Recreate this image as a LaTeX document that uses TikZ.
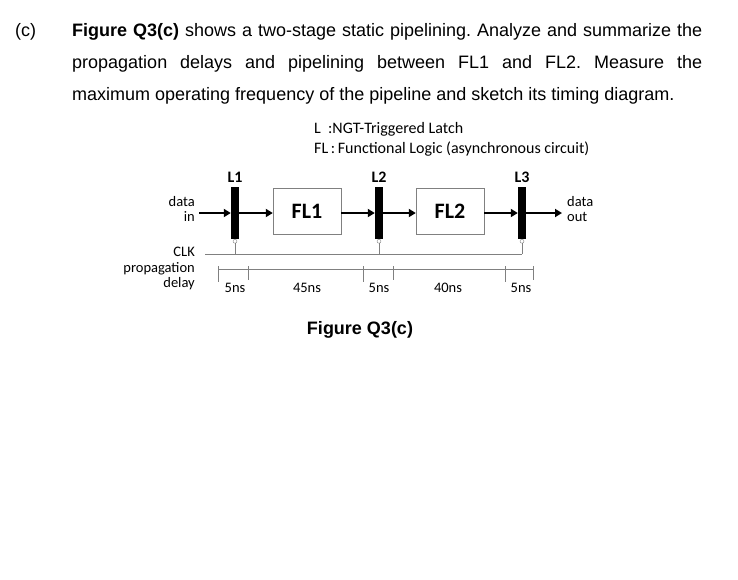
\documentclass[tikz,border=0pt]{standalone}
\usepackage{fontspec}
\setmainfont{Liberation Sans}
\newfontfamily\carl{Carlito}
\usetikzlibrary{arrows.meta}
\begin{document}
\begin{tikzpicture}[x=1pt,y=-1pt,
  latch/.style={fill=black,minimum width=8pt,minimum height=52pt,inner sep=0},
  flbox/.style={draw=gray,minimum width=68pt,minimum height=46pt,font=\carl\bfseries\fontsize{22}{22}\selectfont},
  dat/.style={line width=1.8pt,-{Triangle[length=7pt,width=8pt]}},
  lbl/.style={font=\carl\bfseries\fontsize{16}{16}\selectfont},
  sm/.style={font=\carl\fontsize{14.5}{14.5}\selectfont,align=right,inner sep=0},
  dl/.style={font=\carl\fontsize{14.5}{14}\selectfont,inner sep=0},
  tx/.style={font=\fontsize{18}{18}\selectfont,anchor=base west,inner sep=0}]
\useasboundingbox (0,0) rectangle (738,579);
\node[tx] (c) at (15,36) {(c)};
\node[tx] (t1) at (72,36) {\hbox to 630pt{\spaceskip=0.25em plus 1fil \xspaceskip=\spaceskip \textbf{Figure Q3(c)} shows a two-stage static pipelining. Analyze and summarize the}};
\node[tx] (t2) at (72,68) {\hbox to 630pt{\spaceskip=0.25em plus 1fil \xspaceskip=\spaceskip propagation delays and pipelining between FL1 and FL2. Measure the}};
\node[tx] (t3) at (72,100) {maximum operating frequency of the pipeline and sketch its timing diagram.};
\node[font=\carl\fontsize{16}{16}\selectfont,anchor=west,inner sep=0] (lg1) at (314,129) {L\ \ :NGT-Triggered Latch};
\node[font=\carl\fontsize{16}{16}\selectfont,anchor=west,inner sep=0] (lg2) at (314,149) {FL\,:\,Functional Logic (asynchronous circuit)};
\node[latch] (L1) at (235,213) {};
\node[latch] (L2) at (379,213) {};
\node[latch] (L3) at (522,213) {};
\node[lbl] (n1) at (235,177) {L1};
\node[lbl] (n2) at (379,177) {L2};
\node[lbl] (n3) at (522,177) {L3};
\node[flbox] (F1) at (307,211) {FL1};
\node[flbox] (F2) at (450,211) {FL2};
\node[sm,anchor=east] (din) at (195,209) {data\\in};
\node[sm,align=left,anchor=west] (dout) at (567,209) {data\\out};
\coordinate (a0) at (199,213);
\coordinate (a9) at (562,213);
\draw[dat] (a0) -- (L1.west);
\draw[dat] (L1.east) -- (F1.west|-L1.east);
\draw[dat] (F1.east|-L2.west) -- (L2.west);
\draw[dat] (L2.east) -- (F2.west|-L2.east);
\draw[dat] (F2.east|-L3.west) -- (L3.west);
\draw[dat] (L3.east) -- (a9);
\node[sm,anchor=east] (clk) at (195,252) {CLK};
\coordinate (c0) at (205,254);
\coordinate (c9) at (522,254);
\draw[gray] (c0) -- (c9);
\foreach \L in {L1,L2,L3}{
  \draw[gray] (\L.south) ++(0,2) circle (2pt);
  \draw[gray] (\L.south) ++(0,4) -- (\L.south|-c0);
}
\node[sm,anchor=east] (pd) at (195,276) {propagation\\delay};
\coordinate (d0) at (218,269);
\coordinate (d9) at (533,269);
\draw[gray] (d0) -- (d9);
\foreach \x in {218,248,363,393,505,533}{
  \draw[gray] (\x,266) -- (\x,272);
}
\foreach \x in {218,363,505}{ \draw[gray] (\x,269) -- (\x,282); }
\foreach \x in {248,393,533}{ \draw[gray] (\x,269) -- (\x,280); }
\node[dl] (p1) at (235,288) {5ns};
\node[dl] (p2) at (307,288) {45ns};
\node[dl] (p3) at (379,288) {5ns};
\node[dl] (p4) at (448,288) {40ns};
\node[dl] (p5) at (521,288) {5ns};
\node[font=\bfseries\fontsize{18}{18}\selectfont] (cap) at (360,330) {Figure Q3(c)};
\end{tikzpicture}
\end{document}
